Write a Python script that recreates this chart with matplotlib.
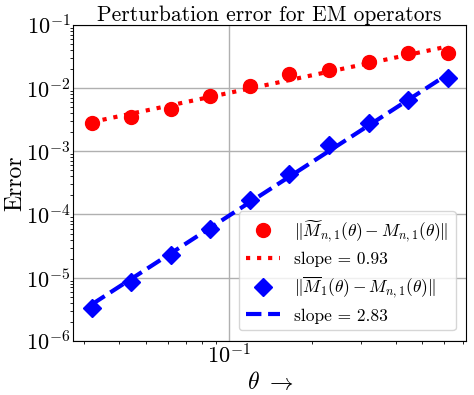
import matplotlib
matplotlib.use("Agg")
import matplotlib.pyplot as plt
import numpy as np

plt.rcParams["font.family"] = "serif"
plt.rcParams["font.serif"] = ["cmr10"]
plt.rcParams["mathtext.fontset"] = "cm"
plt.rcParams["axes.formatter.use_mathtext"] = True

# theta values (log-spaced)
theta = [0.0319, 0.0443, 0.0616, 0.0856, 0.119, 0.165, 0.230, 0.320, 0.444, 0.620]

# ||M~_{n,1} - M_{n,1}||
err_tilde = [2.78e-3, 3.54e-3, 4.64e-3, 7.6e-3, 1.06e-2, 1.68e-2, 1.94e-2, 2.60e-2, 3.65e-2, 3.56e-2]
# ||M-bar_1 - M_{n,1}||
err_bar = [3.29e-6, 8.67e-6, 2.30e-5, 5.9e-5, 1.67e-4, 4.43e-4, 1.27e-3, 2.80e-3, 6.37e-3, 1.46e-2]

slopes = [0.93, 2.83]


def fit_line(x, y, slope):
    lx, ly = np.log10(x), np.log10(y)
    b = np.mean(ly - slope * lx)
    return 10 ** (b + slope * lx)


fig, ax = plt.subplots(figsize=(4.74, 3.95), dpi=100)

ax.loglog(theta, err_tilde, "o", color="red", markersize=10,
          label=r"$\|\widetilde{M}_{n,1}(\theta) - M_{n,1}(\theta)\|$")
ax.loglog(theta, fit_line(theta, err_tilde, slopes[0]), ":", color="red", lw=3,
          label=f"slope = {slopes[0]:.2f}")
ax.loglog(theta, err_bar, "D", color="blue", markersize=9,
          label=r"$\|\overline{M}_1(\theta) - M_{n,1}(\theta)\|$")
ax.loglog(theta, fit_line(theta, err_bar, slopes[1]), "--", color="blue", lw=3,
          label=f"slope = {slopes[1]:.2f}")

ax.set_ylim(1e-6, 1e-1)
ax.set_xlim(0.0274, 0.718)
ax.grid(True, which="major", color="#b0b0b0", lw=1)
ax.set_title("Perturbation error for EM operators", fontsize=15.5, pad=3)
ax.set_xlabel(r"$\theta\ \rightarrow$", fontsize=17, labelpad=2)
ax.set_ylabel("Error", fontsize=17, labelpad=0)
ax.tick_params(which="major", labelsize=16, length=0, pad=2)
ax.tick_params(which="minor", length=2.5)
ax.legend(loc="lower right", fontsize=12.5, handlelength=2.0,
          borderaxespad=0.6, labelspacing=0.45)

fig.subplots_adjust(left=0.155, right=0.983, top=0.937, bottom=0.137)
fig.savefig("out.png", dpi=100)
